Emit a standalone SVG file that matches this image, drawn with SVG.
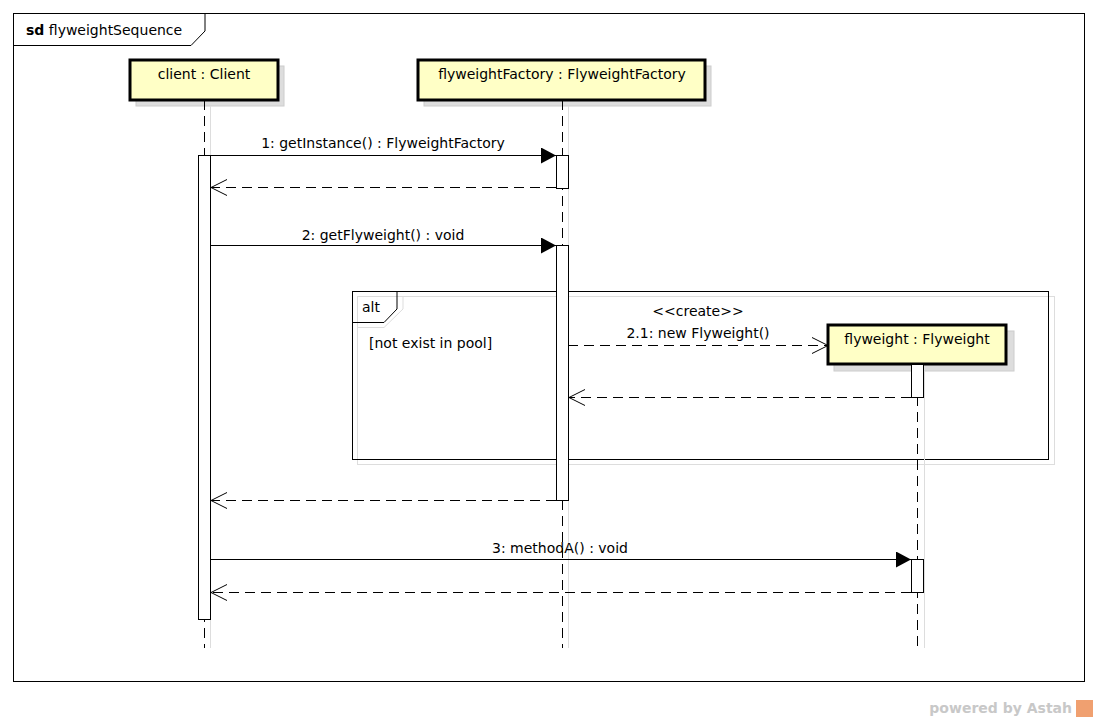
<svg xmlns="http://www.w3.org/2000/svg" width="1097" height="721" viewBox="0 0 1097 721">
<style>
text{font-family:"DejaVu Sans","Liberation Sans",sans-serif;font-size:14px;fill:#000}
.box{fill:#ffffc6;stroke:#000;stroke-width:3}
.sh{fill:#ddd;stroke:#ccc}
.ll{stroke:#000;stroke-dasharray:10,6;fill:none}
.llsh{stroke:#ddd;fill:none}
.act{fill:#fff;stroke:#000}
.msg{stroke:#000;fill:none}
.ret{stroke:#000;fill:none;stroke-dasharray:10,6}
</style>
<defs>
<marker id="fa" markerWidth="16" markerHeight="16" refX="15" refY="8" orient="auto" markerUnits="userSpaceOnUse"><path d="M0,0 L15,8 L0,16 Z" fill="#000"/></marker>
<marker id="oa" markerWidth="18" markerHeight="18" refX="16" refY="9" orient="auto" markerUnits="userSpaceOnUse"><path d="M0,1 L16,9 L0,17" fill="none" stroke="#000"/></marker>
</defs>
<rect width="1097" height="721" fill="#fff"/>
<rect x="13.5" y="13.5" width="1071" height="668" fill="none" stroke="#000"/>
<path d="M13.5,45.5 H191 L205,31 V13.5" fill="none" stroke="#000"/>
<text x="26" y="35"><tspan font-weight="bold">sd</tspan> flyweightSequence</text>
<g id="alt">
<rect x="357.5" y="296.5" width="697" height="168" fill="none" stroke="#ddd"/>
<path d="M357.5,327.5 H384 L403,309 V296.5" fill="none" stroke="#ddd"/>
<rect x="352.5" y="291.5" width="696" height="168" fill="none" stroke="#000"/>
<path d="M352.5,322.5 H384 L397,309 V291.5" fill="none" stroke="#000"/>
<text x="362" y="312">alt</text>
<text x="369" y="348">[not exist in pool]</text>
</g>
<g id="client">
<rect class="sh" x="136" y="66" width="148" height="40"/>
<line class="llsh" x1="210.5" y1="106" x2="210.5" y2="648"/>
<rect class="box" x="130" y="60" width="148" height="40"/>
<text x="204" y="79" text-anchor="middle">client : Client</text>
<line class="ll" x1="204.5" y1="100" x2="204.5" y2="648"/>
<rect class="act" x="198.5" y="155.5" width="12" height="464"/>
</g>
<g id="factory">
<rect class="sh" x="424" y="66" width="287" height="40"/>
<line class="llsh" x1="568.5" y1="106" x2="568.5" y2="648"/>
<rect class="box" x="418" y="60" width="287" height="40"/>
<text x="562" y="79" text-anchor="middle">flyweightFactory : FlyweightFactory</text>
<line class="ll" x1="562.5" y1="100" x2="562.5" y2="648"/>
<rect class="act" x="556.5" y="155.5" width="12" height="33"/>
<rect class="act" x="556.5" y="245.5" width="12" height="255"/>
</g>
<g id="flyweight">
<rect class="sh" x="834" y="331" width="180" height="40"/>
<line class="llsh" x1="924.5" y1="371" x2="924.5" y2="648"/>
<rect class="box" x="828" y="325" width="178" height="39"/>
<text x="917" y="344" text-anchor="middle">flyweight : Flyweight</text>
<line class="ll" x1="917.5" y1="364" x2="917.5" y2="648"/>
<rect class="act" x="911.5" y="364.5" width="12" height="33"/>
<rect class="act" x="911.5" y="559.5" width="12" height="33"/>
</g>
<g id="connectors">
<line class="msg" x1="210" y1="155.5" x2="556" y2="155.5" marker-end="url(#fa)"/>
<text x="383" y="148" text-anchor="middle">1: getInstance() : FlyweightFactory</text>
<line class="ret" x1="556" y1="187.5" x2="211" y2="187.5" marker-end="url(#oa)"/>
<line class="msg" x1="210" y1="245.5" x2="556" y2="245.5" marker-end="url(#fa)"/>
<text x="383" y="240" text-anchor="middle">2: getFlyweight() : void</text>
<line class="ret" x1="568" y1="345.5" x2="828" y2="345.5" marker-end="url(#oa)"/>
<text x="698" y="316" text-anchor="middle">&lt;&lt;create&gt;&gt;</text>
<text x="698" y="338" text-anchor="middle">2.1: new Flyweight()</text>
<line class="ret" x1="911" y1="397.5" x2="569" y2="397.5" marker-end="url(#oa)"/>
<line class="ret" x1="556" y1="500.5" x2="211" y2="500.5" marker-end="url(#oa)"/>
<line class="msg" x1="210" y1="559.5" x2="911" y2="559.5" marker-end="url(#fa)"/>
<text x="560" y="553" text-anchor="middle">3: methodA() : void</text>
<line class="ret" x1="911" y1="592.5" x2="211" y2="592.5" marker-end="url(#oa)"/>
</g>
<text x="1072" y="713" text-anchor="end" style="font-size:14px;font-weight:bold;fill:#c8c8c8">powered by Astah</text>
<rect x="1076" y="700" width="17" height="17" fill="#f0a070"/>
</svg>
